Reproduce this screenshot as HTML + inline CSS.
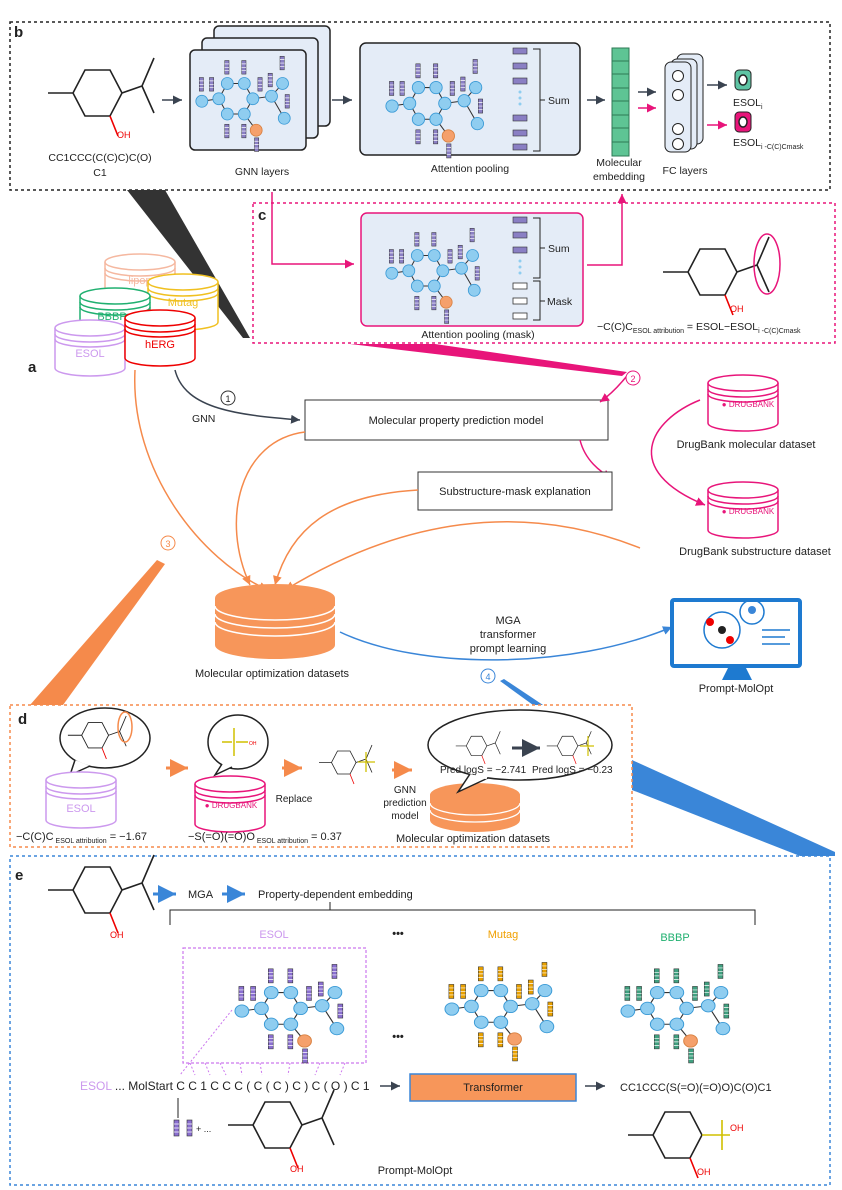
<!DOCTYPE html>
<html><head><meta charset="utf-8"><style>
body{margin:0;background:#fff}
svg{display:block;font-family:"Liberation Sans",sans-serif}
text{font-size:10.5px;fill:#222}
</style></head><body>
<svg width="842" height="1190" viewBox="0 0 842 1190" xmlns="http://www.w3.org/2000/svg">
<defs>
<marker id="ak" markerWidth="8" markerHeight="8" refX="6" refY="3" orient="auto"><path d="M0,0L6,3L0,6z" fill="#3a4350"/></marker>
<marker id="ap" markerWidth="8" markerHeight="8" refX="6" refY="3" orient="auto"><path d="M0,0L6,3L0,6z" fill="#e8157a"/></marker>
<marker id="ao" markerWidth="8" markerHeight="8" refX="6" refY="3" orient="auto"><path d="M0,0L6,3L0,6z" fill="#f58a4b"/></marker>
<marker id="ab" markerWidth="8" markerHeight="8" refX="6" refY="3" orient="auto"><path d="M0,0L6,3L0,6z" fill="#3a86d8"/></marker>
<g id="bar"><rect x="0" y="0" width="5" height="16" fill="currentColor" stroke="#333" stroke-width="0.6"/><path d="M0,4H5M0,8H5M0,12H5" stroke="#fff" stroke-width="0.8"/></g>
<g id="mg">
 <g stroke="#333" stroke-width="1.2" fill="none">
 <path d="M8,58L28,55L38,37L58,37L68,55L58,73L38,73L28,55M68,55L90,52L103,37M90,52L105,78M58,73L72,92" />
 </g>
 <g fill="#8fcdf0" stroke="#3a9ad6" stroke-width="1">
 <circle cx="8" cy="58" r="7"/><circle cx="28" cy="55" r="7"/><circle cx="38" cy="37" r="7"/><circle cx="58" cy="37" r="7"/><circle cx="68" cy="55" r="7"/><circle cx="58" cy="73" r="7"/><circle cx="38" cy="73" r="7"/><circle cx="90" cy="52" r="7"/><circle cx="103" cy="37" r="7"/><circle cx="105" cy="78" r="7"/>
 </g>
 <circle cx="72" cy="92" r="7" fill="#f5a06b" stroke="#d88040"/>
 <use href="#bar" x="5" y="30"/><use href="#bar" x="17" y="30"/><use href="#bar" x="35" y="10"/><use href="#bar" x="55" y="10"/>
 <use href="#bar" x="74" y="30"/><use href="#bar" x="86" y="25"/><use href="#bar" x="100" y="5"/><use href="#bar" x="106" y="50"/>
 <use href="#bar" x="35" y="85"/><use href="#bar" x="55" y="85"/><use href="#bar" x="70" y="101"/>
</g>
<g id="mol">
 <path d="M15,-28L40,-28L52,-5L40,18L15,18L3,-5Z M3,-5L-22,-5 M52,-5L72,-12L84,-40 M72,-12L84,15" stroke="#222" stroke-width="1.6" fill="none"/>
 <path d="M40,18L48,38" stroke="#e00" stroke-width="1.6"/>
</g>
<g id="cyl">
 <path d="M0,8V48A35,8 0 0 0 70,48V8" fill="#fff" stroke="currentColor" stroke-width="1.5"/>
 <ellipse cx="35" cy="8" rx="35" ry="8" fill="#fff" stroke="currentColor" stroke-width="1.5"/>
 <path d="M0,14A35,8 0 0 0 70,14M0,19A35,8 0 0 0 70,19" fill="none" stroke="currentColor" stroke-width="1.5"/>
</g>
</defs>

<!-- b -->
<rect x="10" y="22" width="820" height="168" fill="none" stroke="#222" stroke-width="1.5" stroke-dasharray="3,3"/>
<text x="14" y="37" style="font-size:15px;font-weight:bold">b</text>
<use href="#mol" x="70" y="98"/>
<text x="117" y="138" style="font-size:9px;fill:#e00">OH</text>
<text x="100" y="161" text-anchor="middle">CC1CCC(C(C)C)C(O)</text>
<text x="100" y="176" text-anchor="middle">C1</text>
<line x1="162" y1="100" x2="182" y2="100" stroke="#3a4350" stroke-width="1.5" marker-end="url(#ak)"/>
<rect x="214" y="26" width="116" height="100" rx="5" fill="#e4ecf7" stroke="#222" stroke-width="1.5"/>
<rect x="202" y="38" width="116" height="100" rx="5" fill="#e4ecf7" stroke="#222" stroke-width="1.5"/>
<rect x="190" y="50" width="116" height="100" rx="5" fill="#e4ecf7" stroke="#222" stroke-width="1.5"/>
<g color="#8a7fc4" transform="translate(195,52) scale(0.85)"><use href="#mg"/></g>
<text x="262" y="175" text-anchor="middle">GNN layers</text>
<line x1="332" y1="100" x2="352" y2="100" stroke="#3a4350" stroke-width="1.5" marker-end="url(#ak)"/>
<rect x="360" y="43" width="220" height="112" rx="6" fill="#e4ecf7" stroke="#222" stroke-width="1.5"/>
<g color="#8a7fc4" transform="translate(385,55) scale(0.88)"><use href="#mg"/></g>
<g fill="#8a7fc4" stroke="#333" stroke-width="0.6">
<rect x="513" y="48" width="14" height="6"/><rect x="513" y="63" width="14" height="6"/><rect x="513" y="78" width="14" height="6"/><rect x="513" y="115" width="14" height="6"/><rect x="513" y="130" width="14" height="6"/><rect x="513" y="144" width="14" height="6"/></g>
<g fill="#8fcdf0"><circle cx="520" cy="92" r="1.5"/><circle cx="520" cy="98" r="1.5"/><circle cx="520" cy="104" r="1.5"/></g>
<path d="M533,49H540V151H533M540,100H545" fill="none" stroke="#222"/>
<text x="548" y="104">Sum</text>
<text x="470" y="172" text-anchor="middle">Attention pooling</text>
<line x1="587" y1="100" x2="605" y2="100" stroke="#3a4350" stroke-width="1.5" marker-end="url(#ak)"/>
<rect x="612" y="48" width="17" height="108" fill="#5ec494" stroke="#2d7a55"/>
<path d="M612,61H629M612,74H629M612,88H629M612,101H629M612,115H629M612,128H629M612,142H629" stroke="#2d7a55"/>
<text x="619" y="166" text-anchor="middle">Molecular</text><text x="619" y="180" text-anchor="middle">embedding</text>
<line x1="638" y1="92" x2="656" y2="92" stroke="#3a4350" stroke-width="1.5" marker-end="url(#ak)"/>
<line x1="638" y1="108" x2="656" y2="108" stroke="#e8157a" stroke-width="1.5" marker-end="url(#ap)"/>
<rect x="677" y="54" width="26" height="90" rx="6" fill="#e4ecf7" stroke="#222"/>
<rect x="671" y="59" width="26" height="90" rx="6" fill="#e4ecf7" stroke="#222"/>
<rect x="665" y="62" width="26" height="90" rx="6" fill="#e4ecf7" stroke="#222"/>
<g fill="#fff" stroke="#222"><circle cx="678" cy="76" r="5.5"/><circle cx="678" cy="95" r="5.5"/><circle cx="678" cy="129" r="5.5"/><circle cx="678" cy="144" r="5.5"/></g>
<text x="685" y="174" text-anchor="middle">FC layers</text>
<line x1="707" y1="85" x2="727" y2="85" stroke="#3a4350" stroke-width="1.5" marker-end="url(#ak)"/>
<line x1="707" y1="125" x2="727" y2="125" stroke="#e8157a" stroke-width="1.5" marker-end="url(#ap)"/>
<rect x="735" y="70" width="16" height="20" rx="4" fill="#5ec4a4" stroke="#222"/><ellipse cx="743" cy="80" rx="4" ry="5" fill="#fff" stroke="#222" stroke-width="1.5"/>
<rect x="735" y="112" width="16" height="20" rx="4" fill="#e8157a" stroke="#222"/><ellipse cx="743" cy="122" rx="4" ry="5" fill="#fff" stroke="#222" stroke-width="1.5"/>
<text x="733" y="106">ESOL<tspan style="font-size:7px" dy="3">i</tspan></text>
<text x="733" y="146">ESOL<tspan style="font-size:7px" dy="3">i -C(C)Cmask</tspan></text>

<!-- c -->
<rect x="253" y="203" width="582" height="140" fill="none" stroke="#e8157a" stroke-width="1.5" stroke-dasharray="3,3"/>
<text x="258" y="220" style="font-size:15px;font-weight:bold">c</text>
<path d="M272,192V264H354" fill="none" stroke="#e8157a" stroke-width="1.5" marker-end="url(#ap)"/>
<rect x="361" y="213" width="222" height="113" rx="6" fill="#e4ecf7" stroke="#e8157a" stroke-width="1.5"/>
<g color="#8a7fc4" transform="translate(385,224) scale(0.85)"><use href="#mg"/></g>
<g fill="#8a7fc4" stroke="#333" stroke-width="0.6"><rect x="513" y="217" width="14" height="6"/><rect x="513" y="232" width="14" height="6"/><rect x="513" y="247" width="14" height="6"/></g>
<g fill="#fff" stroke="#333" stroke-width="0.8"><rect x="513" y="283" width="14" height="6"/><rect x="513" y="298" width="14" height="6"/><rect x="513" y="313" width="14" height="6"/></g>
<g fill="#8fcdf0"><circle cx="520" cy="261" r="1.5"/><circle cx="520" cy="267" r="1.5"/><circle cx="520" cy="273" r="1.5"/></g>
<path d="M533,218H540V278H533M540,248H545M533,281H540V320H533M540,301H545" fill="none" stroke="#222"/>
<text x="548" y="252">Sum</text><text x="547" y="305">Mask</text>
<text x="478" y="338" text-anchor="middle">Attention pooling (mask)</text>
<path d="M587,265H622V194" fill="none" stroke="#e8157a" stroke-width="1.5" marker-end="url(#ap)"/>
<use href="#mol" x="685" y="277"/>
<text x="730" y="312" style="font-size:9px;fill:#e00">OH</text>
<ellipse cx="767" cy="264" rx="13" ry="30" fill="none" stroke="#e8157a" stroke-width="1.5"/>
<text x="597" y="330">−C(C)C<tspan style="font-size:7px" dy="3">ESOL attribution</tspan><tspan dy="-3"> = ESOL−ESOL</tspan><tspan style="font-size:7px" dy="3">i -C(C)Cmask</tspan></text>

<!-- wedges -->
<path d="M127,190L165,190L250,338L243,338Z" fill="#333"/>
<path d="M350,344L435,344L627,372L622,376Z" fill="#e8157a"/>
<path d="M157,560L165,564L63,705L30,705Z" fill="#f58a4b"/>
<path d="M500,681L504,679L543,705L533,705Z" fill="#3a86d8"/>
<path d="M632,760L632,790L800,856L835,856L835,852Z" fill="#3a86d8"/>

<!-- databases a -->
<g color="#f5b8a0"><use href="#cyl" x="105" y="254"/></g>
<text x="140" y="284" text-anchor="middle" style="fill:#f5b8a0;font-size:11px">lipop</text>
<g color="#f0c020"><use href="#cyl" x="148" y="274"/></g>
<text x="183" y="306" text-anchor="middle" style="fill:#f0c020;font-size:11px">Mutag</text>
<g color="#20b070"><use href="#cyl" x="80" y="288"/></g>
<text x="112" y="320" text-anchor="middle" style="fill:#20b070;font-size:11px">BBBP</text>
<g color="#cc99ee"><use href="#cyl" x="55" y="320"/></g>
<text x="90" y="357" text-anchor="middle" style="fill:#cc99ee;font-size:11px">ESOL</text>
<g color="#e00"><use href="#cyl" x="125" y="310"/></g>
<text x="160" y="348" text-anchor="middle" style="fill:#e00;font-size:11px">hERG</text>
<text x="28" y="372" style="font-size:15px;font-weight:bold">a</text>

<path d="M175,370C185,410 240,415 300,420" fill="none" stroke="#3a4350" stroke-width="1.5" marker-end="url(#ak)"/>
<circle cx="228" cy="398" r="7" fill="#fff" stroke="#333"/><text x="228" y="402" text-anchor="middle" style="font-size:9px">1</text>
<text x="192" y="422">GNN</text>
<rect x="305" y="400" width="303" height="40" fill="#fff" stroke="#333"/>
<text x="456" y="424" text-anchor="middle" style="font-size:11px">Molecular property prediction model</text>
<path d="M630,372C620,385 610,395 600,402" fill="none" stroke="#e8157a" stroke-width="1.5" marker-end="url(#ap)"/>
<circle cx="633" cy="378" r="7" fill="#fff" stroke="#e8157a"/><text x="633" y="382" text-anchor="middle" style="font-size:9px;fill:#e8157a">2</text>
<g color="#e8157a"><use href="#cyl" x="708" y="375"/></g>
<text x="748" y="407" text-anchor="middle" style="fill:#e8157a;font-size:8px">● DRUGBANK</text>
<text x="746" y="448" text-anchor="middle" style="font-size:11px">DrugBank molecular dataset</text>
<path d="M580,440C585,460 600,472 612,478" fill="none" stroke="#e8157a" stroke-width="1.5" marker-end="url(#ap)"/>
<path d="M700,400C650,420 620,470 705,505" fill="none" stroke="#e8157a" stroke-width="1.5" marker-end="url(#ap)"/>
<rect x="418" y="472" width="194" height="38" fill="#fff" stroke="#333"/>
<text x="515" y="495" text-anchor="middle" style="font-size:11px">Substructure-mask explanation</text>
<g color="#e8157a"><use href="#cyl" x="708" y="482"/></g>
<text x="748" y="514" text-anchor="middle" style="fill:#e8157a;font-size:8px">● DRUGBANK</text>
<text x="755" y="555" text-anchor="middle" style="font-size:11px">DrugBank substructure dataset</text>

<!-- orange flows -->
<g fill="none" stroke="#f58a4b" stroke-width="1.5">
<path d="M135,370C130,470 200,560 268,590" marker-end="url(#ao)"/>
<path d="M305,432C240,440 220,520 250,585" marker-end="url(#ao)"/>
<path d="M418,490C330,495 290,530 275,585" marker-end="url(#ao)"/>
<path d="M640,548C520,500 400,520 285,590" marker-end="url(#ao)"/>
</g>
<circle cx="168" cy="543" r="7" fill="#fff" stroke="#f58a4b"/><text x="168" y="547" text-anchor="middle" style="font-size:9px;fill:#f58a4b">3</text>
<path d="M215,598V645A60,14 0 0 0 335,645V598" fill="#f7965a"/>
<ellipse cx="275" cy="598" rx="60" ry="14" fill="#f7965a"/>
<g fill="none" stroke="#fff" stroke-width="1.5"><path d="M215,606A60,14 0 0 0 335,606M215,614A60,14 0 0 0 335,614M215,622A60,14 0 0 0 335,622"/></g>
<text x="272" y="677" text-anchor="middle" style="font-size:11px">Molecular optimization datasets</text>
<path d="M340,632C420,670 570,670 672,627" fill="none" stroke="#3a86d8" stroke-width="1.5" marker-end="url(#ab)"/>
<text x="508" y="624" text-anchor="middle" style="font-size:11px">MGA</text>
<text x="508" y="638" text-anchor="middle" style="font-size:11px">transformer</text>
<text x="508" y="652" text-anchor="middle" style="font-size:11px">prompt learning</text>
<circle cx="488" cy="676" r="7" fill="#fff" stroke="#3a86d8"/><text x="488" y="680" text-anchor="middle" style="font-size:9px;fill:#3a86d8">4</text>
<rect x="672" y="600" width="128" height="66" rx="2" fill="#fff" stroke="#1e7ad0" stroke-width="4"/>
<path d="M728,668L722,680H752L746,668Z" fill="#1e7ad0"/>
<circle cx="722" cy="630" r="18" fill="none" stroke="#1e7ad0" stroke-width="1.5"/>
<circle cx="752" cy="612" r="12" fill="none" stroke="#1e7ad0" stroke-width="1.5"/>
<circle cx="722" cy="630" r="4" fill="#222"/><circle cx="710" cy="622" r="4" fill="#e00"/><circle cx="730" cy="640" r="4" fill="#e00"/><circle cx="752" cy="610" r="4" fill="#3a86d8"/>
<path d="M762,630H790M762,637H785M762,644H790" stroke="#1e7ad0" stroke-width="1.5"/>
<text x="736" y="692" text-anchor="middle" style="font-size:11px">Prompt-MolOpt</text>

<!-- d -->
<rect x="10" y="705" width="622" height="142" fill="none" stroke="#f58a4b" stroke-width="1.5" stroke-dasharray="3,3"/>
<text x="18" y="724" style="font-size:15px;font-weight:bold">d</text>
<ellipse cx="105" cy="738" rx="45" ry="30" fill="#fff" stroke="#222" stroke-width="1.5"/>
<path d="M75,760L70,775L90,766" fill="#fff" stroke="#222" stroke-width="1.5"/>
<g transform="translate(80,738) scale(0.55)"><use href="#mol"/></g>
<ellipse cx="125" cy="727" rx="7" ry="15" fill="none" stroke="#f58a4b" stroke-width="1.5"/>
<g color="#cc99ee"><use href="#cyl" x="46" y="772"/></g>
<text x="81" y="812" text-anchor="middle" style="fill:#cc99ee;font-size:11px">ESOL</text>
<text x="16" y="840" style="font-size:11px">−C(C)C<tspan style="font-size:7px" dy="3"> ESOL attribution</tspan><tspan dy="-3"> = −1.67</tspan></text>
<line x1="166" y1="768" x2="188" y2="768" stroke="#f58a4b" stroke-width="3" marker-end="url(#ao)"/>
<ellipse cx="238" cy="742" rx="30" ry="27" fill="#fff" stroke="#222" stroke-width="1.5"/>
<path d="M222,764L215,775L232,767" fill="#fff" stroke="#222" stroke-width="1.5"/>
<path d="M222,742H232M236,742H248M234,728V756" stroke="#d0c000" stroke-width="1.5"/>
<text x="249" y="745" style="font-size:5px;fill:#e00">OH</text>
<g color="#e8157a"><use href="#cyl" x="195" y="776"/></g>
<text x="231" y="808" text-anchor="middle" style="fill:#e8157a;font-size:8px">● DRUGBANK</text>
<text x="188" y="840" style="font-size:11px">−S(=O)(=O)O<tspan style="font-size:7px" dy="3"> ESOL attribution</tspan><tspan dy="-3"> = 0.37</tspan></text>
<line x1="282" y1="768" x2="302" y2="768" stroke="#f58a4b" stroke-width="3" marker-end="url(#ao)"/>
<text x="294" y="802" text-anchor="middle" style="font-size:10px">Replace</text>
<g transform="translate(330,765) scale(0.5)"><use href="#mol"/></g>
<path d="M358,762H375M366,752V772" stroke="#d0c000" stroke-width="1.3"/>
<line x1="392" y1="770" x2="412" y2="770" stroke="#f58a4b" stroke-width="3" marker-end="url(#ao)"/>
<text x="405" y="793" text-anchor="middle" style="font-size:10px">GNN</text>
<text x="405" y="806" text-anchor="middle" style="font-size:10px">prediction</text>
<text x="405" y="819" text-anchor="middle" style="font-size:10px">model</text>
<path d="M430,795V820A45,12 0 0 0 520,820V795" fill="#f7965a"/>
<ellipse cx="475" cy="795" rx="45" ry="12" fill="#f7965a"/>
<g fill="none" stroke="#fff" stroke-width="1.3"><path d="M430,803A45,12 0 0 0 520,803M430,810A45,12 0 0 0 520,810"/></g>
<ellipse cx="520" cy="745" rx="92" ry="35" fill="#fff" stroke="#222" stroke-width="1.5"/>
<path d="M470,774L458,792L488,778" fill="#fff" stroke="#222" stroke-width="1.5"/>
<path d="M471,772L487,778" stroke="#fff" stroke-width="3"/>
<g transform="translate(465,748) scale(0.42)"><use href="#mol"/></g>
<line x1="512" y1="748" x2="540" y2="748" stroke="#3a4350" stroke-width="3" marker-end="url(#ak)"/>
<g transform="translate(556,748) scale(0.42)"><use href="#mol"/></g>
<path d="M580,746H594M588,736V756" stroke="#d0c000" stroke-width="1.2"/>
<text x="440" y="773" style="font-size:10px">Pred logS = −2.741</text>
<text x="532" y="773" style="font-size:10px">Pred logS = −0.23</text>
<text x="473" y="842" text-anchor="middle" style="font-size:11px">Molecular optimization datasets</text>

<!-- e -->
<rect x="10" y="856" width="820" height="329" fill="none" stroke="#3a86d8" stroke-width="1.5" stroke-dasharray="3,3"/>
<text x="15" y="880" style="font-size:15px;font-weight:bold">e</text>
<use href="#mol" x="70" y="895"/>
<text x="110" y="938" style="font-size:9px;fill:#e00">OH</text>
<line x1="153" y1="894" x2="176" y2="894" stroke="#3a86d8" stroke-width="3" marker-end="url(#ab)"/>
<text x="188" y="898" style="font-size:11px">MGA</text>
<line x1="222" y1="894" x2="245" y2="894" stroke="#3a86d8" stroke-width="3" marker-end="url(#ab)"/>
<text x="258" y="898" style="font-size:11px">Property-dependent embedding</text>
<path d="M170,925V910H755V925M330,910V902" fill="none" stroke="#222"/>
<text x="274" y="938" text-anchor="middle" style="fill:#cc99ee;font-size:11px">ESOL</text>
<text x="398" y="937" text-anchor="middle" style="font-size:11px;font-weight:bold">•••</text>
<text x="503" y="938" text-anchor="middle" style="fill:#f0a000;font-size:11px">Mutag</text>
<text x="675" y="941" text-anchor="middle" style="fill:#20b070;font-size:11px">BBBP</text>
<rect x="183" y="948" width="183" height="115" fill="none" stroke="#cc77ee" stroke-width="1.2" stroke-dasharray="3,2"/>
<g color="#8a6fd0" transform="translate(234,960) scale(0.98,0.88)"><use href="#mg"/></g>
<text x="398" y="1040" text-anchor="middle" style="font-size:11px;font-weight:bold">•••</text>
<g color="#e8a000" transform="translate(444,958) scale(0.98,0.88)"><use href="#mg"/></g>
<g color="#40a080" transform="translate(620,960) scale(0.98,0.88)"><use href="#mg"/></g>
<g stroke="#cc77ee" stroke-width="1" stroke-dasharray="2,2"><path d="M232,1010L180,1075M190,1063L195,1075M205,1063L210,1075M220,1063L226,1075M240,1063L242,1075M260,1063L262,1075M290,1063L288,1075M320,1063L315,1075M345,1063L340,1075"/></g>
<text x="80" y="1090" style="font-size:12px"><tspan style="fill:#cc99ee">ESOL</tspan> ... MolStart C C 1 C C C ( C ( C ) C ) C ( O ) C 1</text>
<line x1="380" y1="1086" x2="400" y2="1086" stroke="#3a4350" stroke-width="1.5" marker-end="url(#ak)"/>
<rect x="410" y="1074" width="166" height="27" fill="#f7965a" stroke="#3a86d8" stroke-width="1.5"/>
<text x="493" y="1091" text-anchor="middle" style="font-size:11px">Transformer</text>
<line x1="585" y1="1086" x2="605" y2="1086" stroke="#3a4350" stroke-width="1.5" marker-end="url(#ak)"/>
<text x="620" y="1091" style="font-size:11px">CC1CCC(S(=O)(=O)O)C(O)C1</text>
<line x1="178" y1="1098" x2="178" y2="1118" stroke="#222"/>
<g color="#8a6fd0"><use href="#bar" x="174" y="1120"/><use href="#bar" x="187" y="1120"/></g>
<text x="196" y="1132" style="font-size:9px">+ ...</text>
<use href="#mol" x="250" y="1130"/>
<text x="290" y="1172" style="font-size:9px;fill:#e00">OH</text>
<text x="415" y="1174" text-anchor="middle" style="font-size:11px">Prompt-MolOpt</text>
<g transform="translate(650,1140)"><path d="M15,-28L40,-28L52,-5L40,18L15,18L3,-5Z M3,-5L-22,-5" stroke="#222" stroke-width="1.6" fill="none"/><path d="M40,18L48,38" stroke="#e00" stroke-width="1.6"/><path d="M52,-5H80M72,-20V10" stroke="#d0c000" stroke-width="1.6"/></g>
<text x="730" y="1131" style="font-size:9px;fill:#e00">OH</text>
<text x="697" y="1175" style="font-size:9px;fill:#e00">OH</text>
</svg>
</body></html>
